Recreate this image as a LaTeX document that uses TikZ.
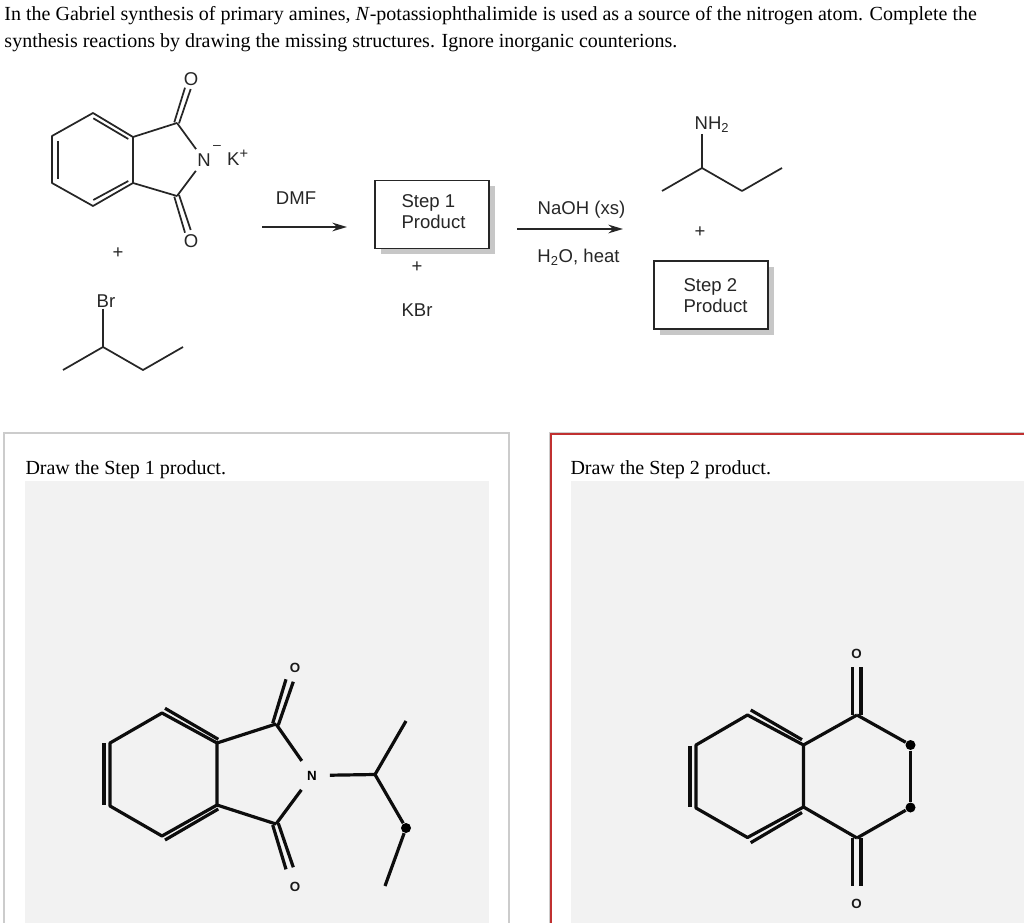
\documentclass[tikz,border=0pt]{standalone}
\usepackage{fontspec}
\setmainfont{Liberation Sans}
\newfontfamily\headfont{Liberation Serif}
\usetikzlibrary{shadows,arrows.meta}

\tikzset{every picture/.style={line width=0.75pt}}
\tikzset{
	bondthin/.style={line width=1.3pt,draw=black!85},
	bondthick/.style={line width=2.4pt,draw=black!95},
	chemlabel/.style={inner sep=0.5pt,font=\fontsize{13.9}{15.75}\selectfont,text=black!85},
	oxlabel/.style={inner sep=1pt,font=\fontsize{10}{10}\selectfont\bfseries,text=black!90},
	headtext/.style={anchor=base west,inner sep=0pt,font=\fontsize{15}{16}\selectfont\headfont},
	drawtext/.style={anchor=base west,inner sep=0pt,font=\fontsize{15}{16}\selectfont\headfont},
	productbox/.style={draw=black!85,line width=1.3pt,fill=white,minimum width=85pt,minimum height=51pt,inner sep=0pt,
		drop shadow={shadow xshift=4.5pt,shadow yshift=-4.5pt,fill=black!22,opacity=1}},
	boxtext/.style={chemlabel,align=left},
	reactarrow/.style={line width=1.3pt,draw=black!85,-{Stealth[length=11pt,width=6.5pt]}},
	atomdot/.style={circle,fill=black,inner sep=0pt,minimum size=7.5pt},
	panelgray/.style={line width=1.6pt,draw=black!20},
	panelred/.style={line width=1.6pt,draw={rgb,255:red,192;green,48;blue,48}}
}

\begin{document}
\begin{tikzpicture}[x=0.75pt,y=0.75pt,yscale=-1,xscale=1]
	\useasboundingbox (0,0) rectangle (1024,923);

	% Question text
	\node[headtext] (headone) at (4,21) {In the Gabriel synthesis of primary amines, \textit{N}-potassiophthalimide is used as a source of the nitrogen atom. Complete the};
	\node[headtext] (headtwo) at (4,48) {synthesis reactions by drawing the missing structures. Ignore inorganic counterions.};

	% Phthalimide salt
	\coordinate (ra) at (93,113);
	\coordinate (rb) at (133,137);
	\coordinate (rc) at (133,183);
	\coordinate (rd) at (93,206);
	\coordinate (re) at (52,183);
	\coordinate (rf) at (52,136);
	\coordinate (rg) at (177,123);
	\coordinate (rh) at (177,196);
	\node[chemlabel,inner sep=3pt] (rn) at (204,160) {N};
	\node[chemlabel] (rotop) at (191,79) {O};
	\node[chemlabel] (robot) at (191,241) {O};
	\node[chemlabel,font=\fontsize{10.5}{12}\selectfont] (rminus) at (217,147) {–};
	\node[chemlabel] (rk) at (238,158) {K\textsuperscript{\fontsize{11}{11}\selectfont +}};
	\draw[bondthin,line join=round] (ra) -- (rb) -- (rc) -- (rd) -- (re) -- (rf) -- cycle;
	\draw[bondthin] (rb) -- (rg);
	\draw[bondthin] (rc) -- (rh);
	\draw[bondthin] (rg) -- (rn);
	\draw[bondthin] (rh) -- (rn);
	\draw[bondthin] (93.3,118.3) -- (128.3,139);
	\draw[bondthin] (93.3,200) -- (128.3,181);
	\draw[bondthin] (58.3,141) -- (58.3,179);
	\draw[bondthin] (174.3,122.3) -- (185,87.7);
	\draw[bondthin] (179,123.3) -- (190.7,89);
	\draw[bondthin] (174.3,196.7) -- (185,232.7);
	\draw[bondthin] (179,195) -- (190.7,230);
	\node[chemlabel] (plusone) at (118,253) {+};

	% Bromide
	\node[chemlabel] (rbr) at (106,301) {Br};
	\coordinate (sa) at (103,347);
	\coordinate (sb) at (63,370);
	\coordinate (sc) at (143,370);
	\coordinate (sd) at (183,347);
	\draw[bondthin] (rbr.south -| sa) -- (sa);
	\draw[bondthin,line join=round] (sb) -- (sa) -- (sc) -- (sd);

	% Step 1
	\node[chemlabel] (dmf) at (296,198) {DMF};
	\coordinate (arrowas) at (262,227);
	\coordinate (arrowae) at (347,227);
	\draw[reactarrow] (arrowas) -- (arrowae);
	\node[productbox] (stepone) at (432,214.5) {};
	\node[boxtext] (steponetext) at (433.5,212) {Step 1\\Product};
	\node[chemlabel] (plustwo) at (417,267) {+};
	\node[chemlabel] (kbr) at (417,310) {KBr};

	% Step 2
	\node[chemlabel] (naoh) at (581.5,210) {NaOH (xs)};
	\node[chemlabel] (water) at (578.5,257) {H\textsubscript{2}O, heat};
	\coordinate (arrowbs) at (517,229);
	\coordinate (arrowbe) at (623,229);
	\draw[reactarrow] (arrowbs) -- (arrowbe);
	\node[chemlabel] (nhtwo) at (712,125) {NH\textsubscript{2}};
	\coordinate (ta) at (702,168);
	\coordinate (tb) at (662,191);
	\coordinate (tc) at (742,191);
	\coordinate (td) at (782,168);
	\draw[bondthin] (nhtwo.south -| ta) -- (ta);
	\draw[bondthin,line join=round] (tb) -- (ta) -- (tc) -- (td);
	\node[chemlabel] (plusthree) at (700,232) {+};
	\node[productbox] (steptwo) at (711,295) {};
	\node[boxtext] (steptwotext) at (715.5,296) {Step 2\\Product};

	% Panels
	\draw[panelgray] (4,923) -- (4,433) -- (509,433) -- (509,923);
	\draw[line width=0.75pt,draw=black!20] (549.5,923) -- (549.5,432.5) -- (1024,432.5);
	\draw[panelred] (551,923) -- (551,434) -- (1024,434);
	\fill[black!5] (25,481) rectangle (489,923);
	\fill[black!5] (571,481) rectangle (1024,923);
	\node[drawtext] (drawone) at (25,474) {Draw the Step 1 product.};
	\node[drawtext] (drawtwo) at (570,474) {Draw the Step 2 product.};

	% Step 1 answer
	\coordinate (pa) at (162,713);
	\coordinate (pb) at (217,743);
	\coordinate (pc) at (217,805);
	\coordinate (pd) at (162,836);
	\coordinate (pe) at (110,806);
	\coordinate (pf) at (110,743);
	\coordinate (pg) at (276,724);
	\coordinate (ph) at (276,824);
	\coordinate (pj) at (375,774.5);
	\coordinate (pk) at (406,721);
	\coordinate (pm) at (385,886);
	\node[atomdot] (pdot) at (406,828) {};
	\node[circle,inner sep=0pt,minimum size=26pt,font=\fontsize{10}{10}\selectfont\bfseries] (pn) at (312,775.5) {\raisebox{-1.5pt}{N}};
	\node[oxlabel] (potop) at (295,667.5) {O};
	\node[oxlabel] (pobot) at (295,886.5) {O};
	\draw[bondthick,line join=round] (pa) -- (pb) -- (pc) -- (pd) -- (pe) -- (pf) -- cycle;
	\draw[bondthick] (pb) -- (pg);
	\draw[bondthick] (pc) -- (ph);
	\draw[bondthick] (pg) -- (pn);
	\draw[bondthick] (ph) -- (pn);
	\draw[bondthick] (pn) -- (pj);
	\draw[bondthick] (pj) -- (pk);
	\draw[bondthick] (pj) -- (pdot);
	\draw[bondthick] (pdot) -- (pm);
	\draw[bondthick] (165,708.3) -- (218.3,739.3);
	\draw[bondthick] (165,840) -- (218.3,809);
	\draw[bondthick] (104,743) -- (104,805);
	\draw[bondthick] (272.7,723.3) -- (286,679.3);
	\draw[bondthick] (278.3,725) -- (293.3,681.7);
	\draw[bondthick] (272.7,825) -- (286,869.3);
	\draw[bondthick] (278.3,823.3) -- (293.3,867.3);

	% Step 2 answer
	\coordinate (qa) at (747.5,715);
	\coordinate (qb) at (803.5,745);
	\coordinate (qc) at (803.5,807);
	\coordinate (qd) at (747.5,837.5);
	\coordinate (qe) at (696,808);
	\coordinate (qf) at (696,745);
	\coordinate (qg) at (857,715);
	\coordinate (qh) at (857,838);
	\node[atomdot] (qdota) at (910.5,745) {};
	\node[atomdot] (qdotb) at (910.5,807.5) {};
	\node[oxlabel] (qotop) at (856.5,654) {O};
	\node[oxlabel] (qobot) at (856.5,903.5) {O};
	\draw[bondthick,line join=round] (qa) -- (qb) -- (qc) -- (qd) -- (qe) -- (qf) -- cycle;
	\draw[bondthick] (qb) -- (qg);
	\draw[bondthick] (qc) -- (qh);
	\draw[bondthick] (qg) -- (qdota);
	\draw[bondthick] (qdota) -- (qdotb);
	\draw[bondthick] (qdotb) -- (qh);
	\draw[bondthick] (750.7,710) -- (802,739.7);
	\draw[bondthick] (750.7,842.7) -- (802,812.5);
	\draw[bondthick] (690,745.7) -- (690,807);
	\draw[bondthick] (852.7,667) -- (852.7,715);
	\draw[bondthick] (861,667) -- (861,715);
	\draw[bondthick] (852.7,838) -- (852.7,886);
	\draw[bondthick] (861,838) -- (861,886);
\end{tikzpicture}
\end{document}
